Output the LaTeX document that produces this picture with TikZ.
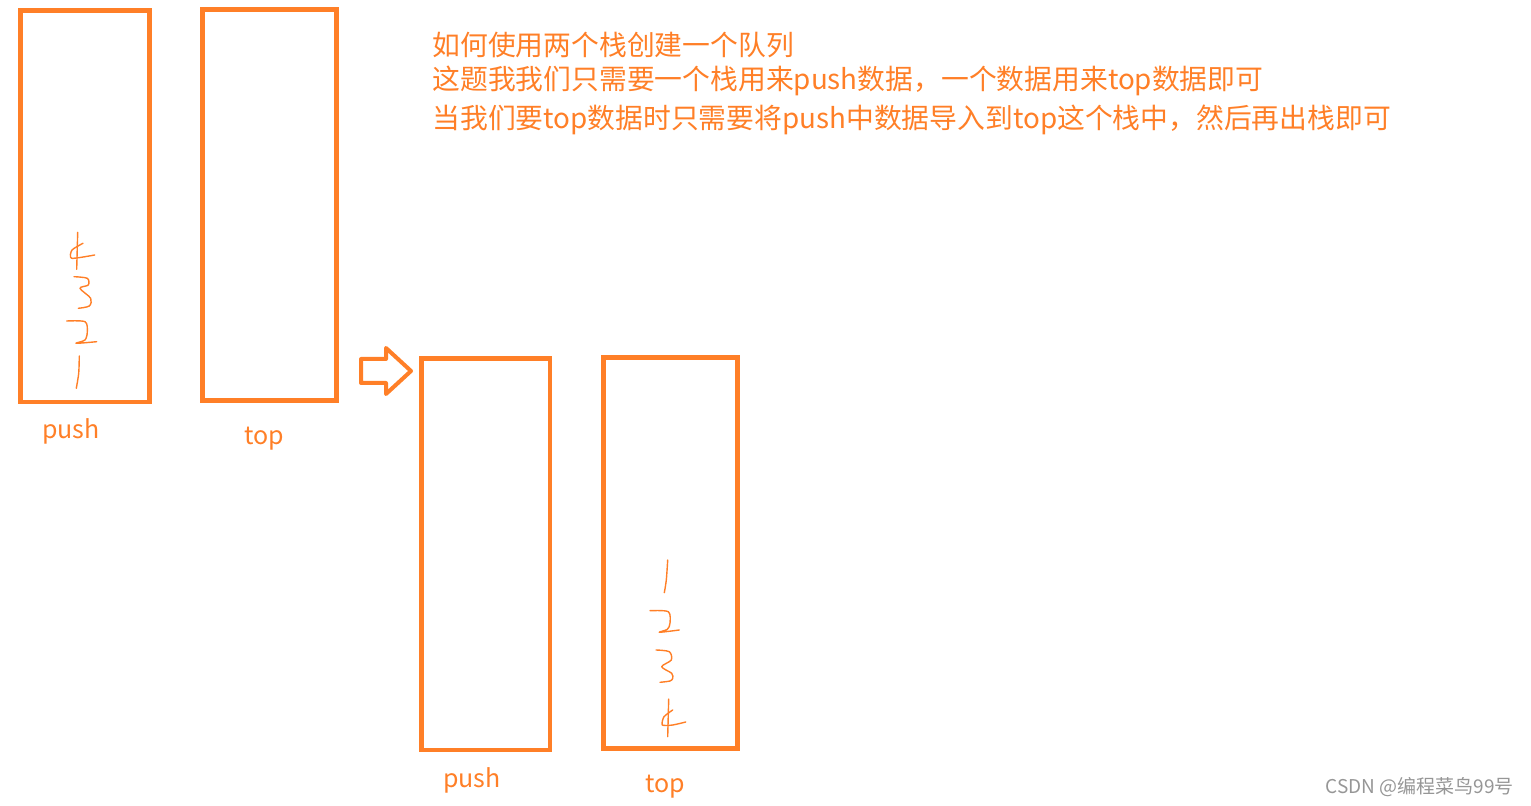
\documentclass[tikz,border=0pt]{standalone}
\usepackage{fontspec}
\setmainfont{Noto Sans CJK SC}
\usepackage{tikz}

\definecolor{paintorange}{RGB}{255,127,39}
\definecolor{markgray}{RGB}{150,150,150}

\begin{document}
\begin{tikzpicture}[x=0.5pt,y=-0.5pt]
            \tikzset{stack/.style = {shape=rectangle,draw=paintorange,line width=2.35pt,inner sep=0pt,outer sep=0pt}}
            \tikzset{lbl/.style = {text=paintorange,font=\fontsize{12.5pt}{15pt}\selectfont,inner sep=0pt}}
            \tikzset{note/.style = {text=paintorange,font=\fontsize{13.9pt}{16pt}\selectfont,inner sep=0pt,anchor=west}}
            \tikzset{ink/.style = {draw=paintorange,line width=0.7pt,line cap=round,line join=round}}
            \useasboundingbox (0,0) rectangle (1531,806);

            % the two stacks before
            \node[stack,minimum width=64.5pt,minimum height=195.8pt] (push1) at (85,206.2) {};
            \node[stack,minimum width=67pt,minimum height=195.6pt] (top1) at (269.3,204.9) {};
            % the two stacks after
            \node[stack,minimum width=64.3pt,minimum height=195.9pt] (push2) at (485.8,554.2) {};
            \node[stack,minimum width=66.7pt,minimum height=195.3pt] (top2) at (670.5,552.9) {};

            \node[lbl] (lpush1) at (71,431) {push};
            \node[lbl] (ltop1) at (264,439) {top};
            \node[lbl] (lpush2) at (472,780) {push};
            \node[lbl] (ltop2) at (665.5,787) {top};

            % block arrow
            \draw[paintorange,line width=2pt,line join=round]
                (361,359) -- (386,359) -- (386,348) -- (411,371) -- (386,394) -- (386,383) -- (361,383) -- cycle;

            \node[note] (line1) at (432,45) {如何使用两个栈创建一个队列};
            \node[note] (line2) at (432,81) {这题我我们只需要一个栈用来push数据，一个数据用来top数据即可};
            \node[note] (line3) at (432,120) {当我们要top数据时只需要将push中数据导入到top这个栈中，然后再出栈即可};

            % handwritten 4 3 2 1
            \draw[ink] (77.7,232.3) -- (76.7,269.3);
            \draw[ink] plot[smooth,tension=0.4] coordinates {(83,243.3) (72,250) (71.7,258.3) (94.7,255)};
            \draw[ink] plot[smooth,tension=0.5] coordinates {(74,276.7) (87.3,278.3) (88.3,285) (80,288.3) (90.7,298.3) (89.3,306) (78.3,308.3)};
            \draw[ink] plot[smooth,tension=0.5] coordinates {(66.7,321) (85,321.7) (87.3,331.7) (85,340) (76,343.3) (96.7,341.7)};
            \draw[ink] plot[smooth,tension=0.5] coordinates {(79.3,356) (78.7,373.3) (76.3,388.3)};

            % handwritten 1 2 3 4
            \draw[ink] plot[smooth,tension=0.5] coordinates {(667.7,560) (666.3,580) (664.3,592.7)};
            \draw[ink] plot[smooth,tension=0.5] coordinates {(650,610.7) (668.3,611.7) (670,623.3) (667.3,629.3) (659.3,632.3) (679.3,630)};
            \draw[ink] plot[smooth,tension=0.5] coordinates {(656,650) (669.3,651.7) (671.3,660) (661.7,666.7) (671.7,673.3) (672.7,678.3) (670,681) (660,682.3)};
            \draw[ink] (668.7,699) -- (667.7,736.7);
            \draw[ink] plot[smooth,tension=0.4] coordinates {(672.7,710) (664,716.7) (662.3,725) (672.7,725) (685.7,722)};

            \node[anchor=east,text=markgray,font=\fontsize{9.5pt}{11pt}\selectfont,inner sep=0pt] (mark) at (1514,787) {CSDN @编程菜鸟99号};
        \end{tikzpicture}
\end{document}
